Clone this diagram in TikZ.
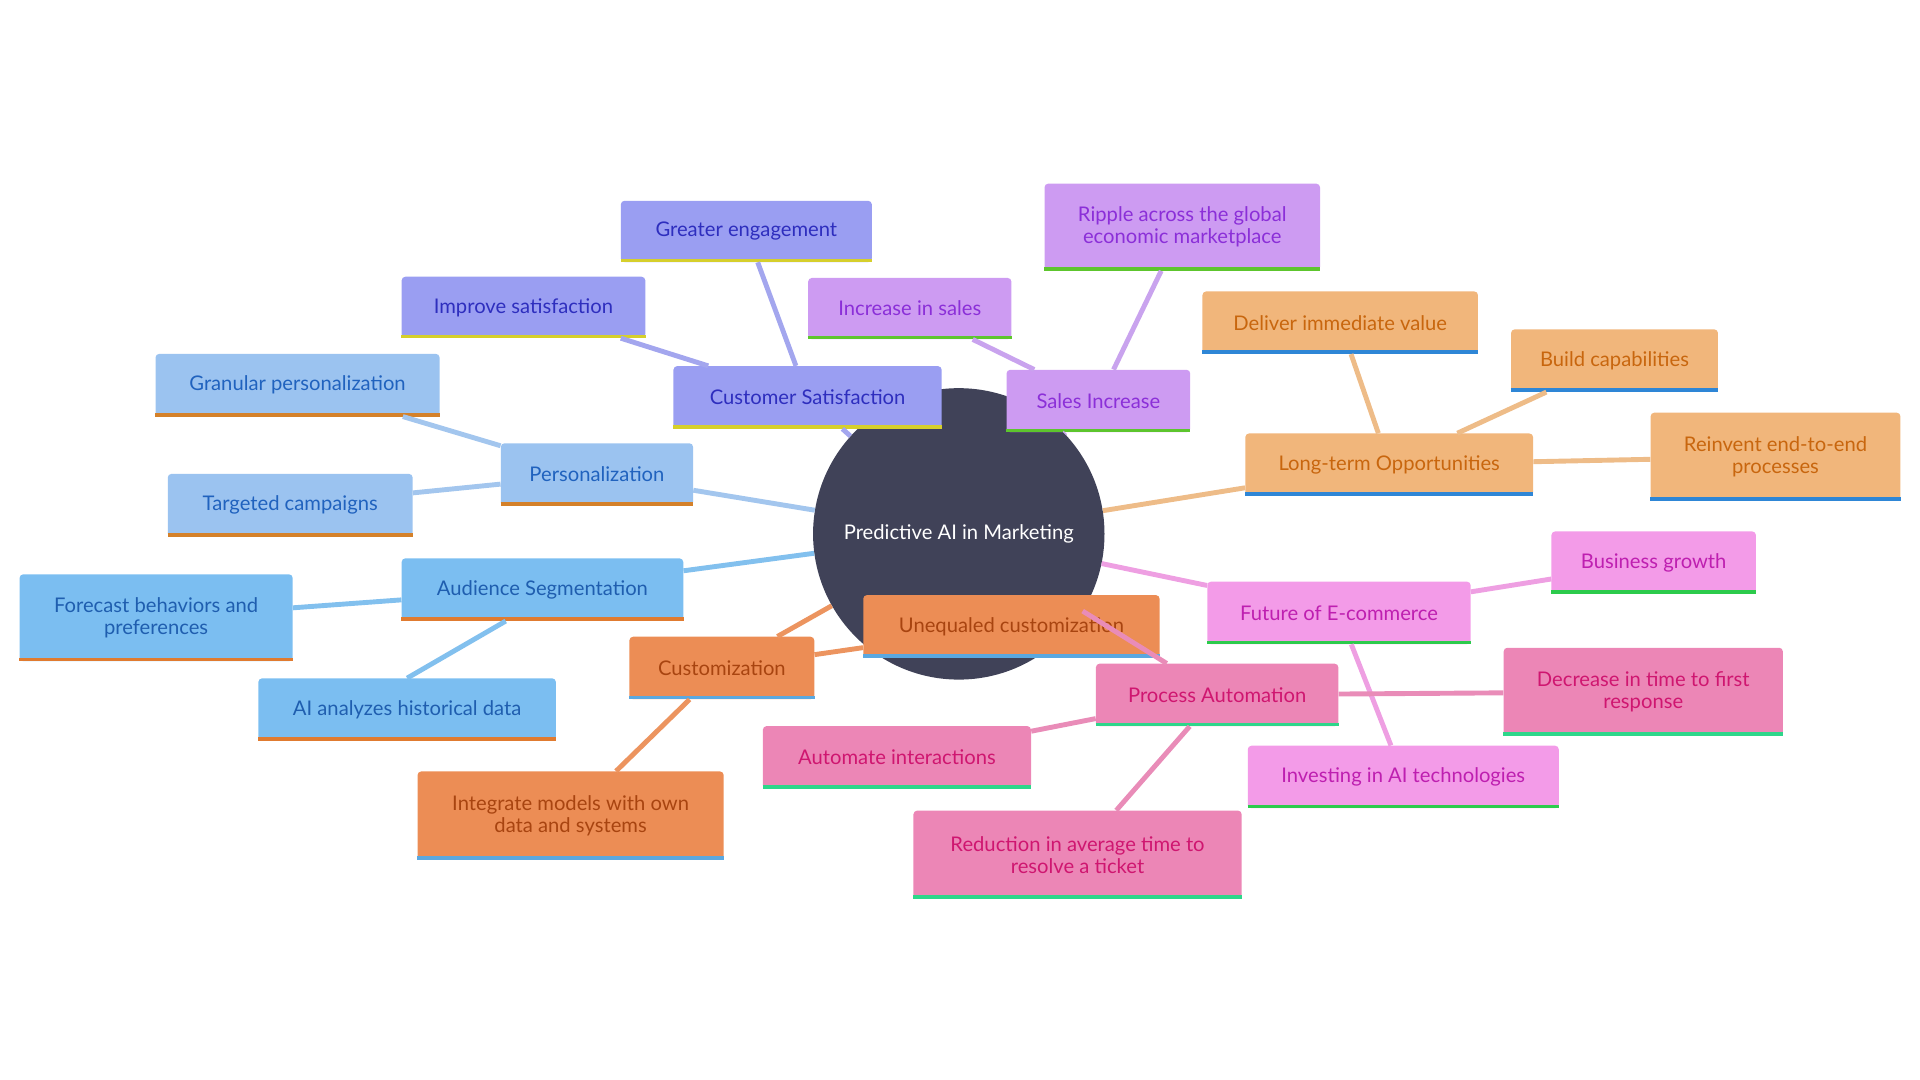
\documentclass[tikz,border=0pt]{standalone}
\usepackage{fontspec}
\setmainfont{Lato}
\definecolor{cCS}{HTML}{9A9EF2}\definecolor{tCS}{HTML}{2E2EBE}\definecolor{bCS}{HTML}{D6CF2C}\definecolor{eCS}{HTML}{A3A6EE}
\definecolor{cSI}{HTML}{CD9BF2}\definecolor{tSI}{HTML}{8B2FD8}\definecolor{bSI}{HTML}{5DC52D}\definecolor{eSI}{HTML}{C9A3EE}
\definecolor{cLT}{HTML}{F1B67B}\definecolor{tLT}{HTML}{C8660E}\definecolor{bLT}{HTML}{2E86D6}\definecolor{eLT}{HTML}{EEBC88}
\definecolor{cFE}{HTML}{F39BE8}\definecolor{tFE}{HTML}{BE1FB0}\definecolor{bFE}{HTML}{2CCB4C}\definecolor{eFE}{HTML}{EE9FE2}
\definecolor{cPA}{HTML}{EC86B6}\definecolor{tPA}{HTML}{CF1670}\definecolor{bPA}{HTML}{2ED68A}\definecolor{ePA}{HTML}{E98CB8}
\definecolor{cCU}{HTML}{EC8D55}\definecolor{tCU}{HTML}{A84410}\definecolor{bCU}{HTML}{5BA8E0}\definecolor{eCU}{HTML}{EC945F}
\definecolor{cAS}{HTML}{7BBEF1}\definecolor{tAS}{HTML}{1F5EAF}\definecolor{bAS}{HTML}{E07B30}\definecolor{eAS}{HTML}{82C0EE}
\definecolor{cPE}{HTML}{9BC3F0}\definecolor{tPE}{HTML}{2062BE}\definecolor{bPE}{HTML}{D4812A}\definecolor{ePE}{HTML}{A3C6EE}
\definecolor{core}{HTML}{404258}
\begin{document}
\begin{tikzpicture}[x=1pt,y=-1pt,
 box/.style={rectangle,rounded corners=3pt,inner sep=2pt,align=center,font=\fontsize{16.5}{18}\selectfont},
 edge/.style={line width=4pt}]
\newcommand\bx[9]{%
 \node[box,fill=#6,text=#7,minimum width=#4pt,minimum height=#5pt] (#1) at (#2,#3) {#9};
 \draw[line width=3pt,#8] ([yshift=1.5pt]#1.south west) -- ([yshift=1.5pt]#1.south east);}
\useasboundingbox (0,0) rectangle (1568,882);
\node[circle,fill=core,minimum size=238pt,inner sep=0pt,text=white,font=\fontsize{16.5}{18}\selectfont] (c) at (783,436) {Predictive AI in Marketing};
\bx{ge}{609.5}{189}{205}{50}{cCS}{tCS}{bCS}{Greater engagement}
\bx{is}{427.5}{251}{199}{50}{cCS}{tCS}{bCS}{Improve satisfaction}
\bx{cs}{659.5}{324.5}{219}{51}{cCS}{tCS}{bCS}{Customer Satisfaction}
\bx{gp}{243}{314.5}{232}{51}{cPE}{tPE}{bPE}{Granular personalization}
\bx{pe}{487.5}{387.5}{157}{51}{cPE}{tPE}{bPE}{Personalization}
\bx{tc}{237}{412.5}{200}{51}{cPE}{tPE}{bPE}{Targeted campaigns}
\bx{as}{443}{481.5}{230}{51}{cAS}{tAS}{bAS}{Audience Segmentation}
\bx{fb}{127.5}{504.5}{223}{71}{cAS}{tAS}{bAS}{Forecast behaviors and\\preferences}
\bx{ai}{332.5}{579.5}{243}{51}{cAS}{tAS}{bAS}{AI analyzes historical data}
\bx{cu}{589.5}{545.5}{151}{51}{cCU}{tCU}{bCU}{Customization}
\bx{uc}{826}{511.5}{242}{51}{cCU}{tCU}{bCU}{Unequaled customization}
\bx{im}{466}{666}{250}{72}{cCU}{tCU}{bCU}{Integrate models with own\\data and systems}
\bx{ins}{743}{252}{166}{50}{cSI}{tSI}{bSI}{Increase in sales}
\bx{ri}{965.5}{185.5}{225}{71}{cSI}{tSI}{bSI}{Ripple across the global\\economic marketplace}
\bx{si}{897}{327.5}{150}{51}{cSI}{tSI}{bSI}{Sales Increase}
\bx{dv}{1094.5}{263.5}{225}{51}{cLT}{tLT}{bLT}{Deliver immediate value}
\bx{bc}{1318.5}{294.5}{169}{51}{cLT}{tLT}{bLT}{Build capabilities}
\bx{lt}{1134.5}{379.5}{235}{51}{cLT}{tLT}{bLT}{Long-term Opportunities}
\bx{re}{1450}{373}{204}{72}{cLT}{tLT}{bLT}{Reinvent end-to-end\\processes}
\bx{bg}{1350.5}{459.5}{167}{51}{cFE}{tFE}{bFE}{Business growth}
\bx{fe}{1093.5}{500.5}{215}{51}{cFE}{tFE}{bFE}{Future of E-commerce}
\bx{pa}{994}{567.5}{198}{51}{cPA}{tPA}{bPA}{Process Automation}
\bx{de}{1342}{565}{228}{72}{cPA}{tPA}{bPA}{Decrease in time to first\\response}
\bx{ai2}{732.5}{618.5}{219}{51}{cPA}{tPA}{bPA}{Automate interactions}
\bx{iv}{1146}{634.5}{254}{51}{cFE}{tFE}{bFE}{Investing in AI technologies}
\bx{rd}{880}{698}{268}{72}{cPA}{tPA}{bPA}{Reduction in average time to\\resolve a ticket}
\draw[edge,eCS] (c) -- (cs);
\draw[edge,eCS] (cs) -- (ge); \draw[edge,eCS] (cs) -- (is);
\draw[edge,ePE] (c) -- (pe); \draw[edge,ePE] (pe) -- (gp); \draw[edge,ePE] (pe) -- (tc);
\draw[edge,eAS] (c) -- (as); \draw[edge,eAS] (as) -- (fb);
\coordinate (asb) at ([xshift=-30pt]as.south); \draw[edge,eAS] (asb) -- (ai.north);
\draw[edge,eCU] (c) -- (cu); \draw[edge,eCU] (cu) -- (uc); \draw[edge,eCU] (cu) -- (im);
\draw[edge,eSI] (c) -- (si); \draw[edge,eSI] (si) -- (ins); \draw[edge,eSI] (si) -- (ri);
\draw[edge,eLT] (c) -- (lt); \draw[edge,eLT] (lt) -- (dv); \draw[edge,eLT] (lt) -- (bc); \draw[edge,eLT] (lt) -- (re);
\draw[edge,eFE] (c) -- (fe); \draw[edge,eFE] (fe) -- (bg); \draw[edge,eFE] (fe) -- (iv);
\draw[edge,ePA] (c) -- (pa); \draw[edge,ePA] (pa) -- (de); \draw[edge,ePA] (pa) -- (ai2); \draw[edge,ePA] (pa) -- (rd);
\end{tikzpicture}
\end{document}
